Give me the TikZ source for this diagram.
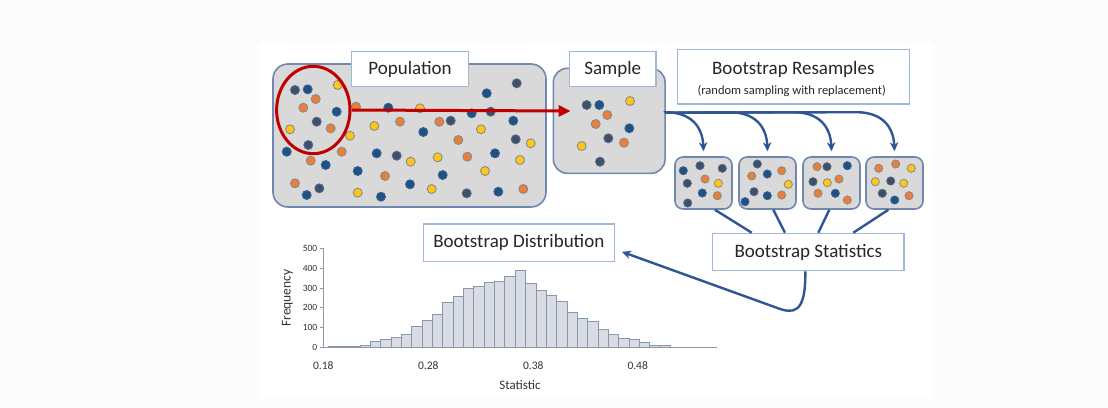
\documentclass[tikz,border=0pt]{standalone}
\usepackage{fontspec}
\setmainfont{Carlito}
\usetikzlibrary{arrows.meta,calc,shapes.geometric}
\definecolor{bgc}{HTML}{FCFCFC}
\definecolor{boxfill}{HTML}{D9D9D9}
\definecolor{boxline}{HTML}{7088B0}
\definecolor{lblline}{HTML}{9DB8DA}
\definecolor{txt}{HTML}{262626}
\definecolor{redc}{HTML}{C00000}
\definecolor{bluec}{HTML}{2F5597}
\definecolor{cN}{HTML}{215083}
\definecolor{oN}{HTML}{3A6592}
\definecolor{cS}{HTML}{3E5069}
\definecolor{oS}{HTML}{566A84}
\definecolor{cO}{HTML}{E97F3A}
\definecolor{oO}{HTML}{8A8A8A}
\definecolor{cY}{HTML}{FFC61A}
\definecolor{oY}{HTML}{8A8A8A}
\definecolor{barfill}{HTML}{D9DCE2}
\definecolor{barline}{HTML}{8597B3}
\definecolor{axisc}{HTML}{8C96A6}
\definecolor{axtxt}{HTML}{333333}
\newcommand{\myfs}[1]{\fontsize{#1}{#1}\selectfont}
\begin{document}
\begin{tikzpicture}[x=1pt,y=-1pt,
  bigbox/.style={draw=boxline, fill=boxfill, line width=1.6pt, inner sep=0pt},
  lbl/.style={draw=lblline, fill=white, line width=1.2pt, inner sep=0pt, text=txt, font=\myfs{19}},
  dot/.style={circle, inner sep=0pt, minimum size=9pt, line width=0.9pt},
  sdot/.style={circle, inner sep=0pt, minimum size=8.2pt, line width=0.8pt},
  bluearr/.style={draw=bluec, line width=2.4pt, -{Stealth[length=9pt,width=8.5pt]}},
  blueln/.style={draw=bluec, line width=2.4pt},
  redarr/.style={draw=redc, line width=3pt, -{Triangle[length=12pt,width=11pt]}},
  bar/.style={draw=barline, fill=barfill, line width=0.9pt},
  axis/.style={draw=axisc, line width=1pt},
  ticklbl/.style={text=axtxt, inner sep=0pt}
]
\useasboundingbox (0,0) rectangle (1108,407);
\fill[bgc] (0,0) rectangle (1108,407);
\fill[white] (259,44) rectangle (933,398);

% population
\node[bigbox, rounded corners=15pt, minimum width=273pt, minimum height=143pt] (pop) at (409.5,135.5) {};
\foreach \x/\y/\c [count=\i] in {
295/90/S, 307.7/89.3/N, 337.7/85/Y, 315.7/99/O, 303.3/107.7/O, 336.7/111.7/N,
316.7/121.7/S, 330.7/128.3/O, 290/129.3/Y, 308.3/145/S, 356/106.7/O, 388.3/107.7/N,
420/108.3/Y, 471.7/113.3/N, 490.7/111.7/S, 486.7/93.3/N, 516.7/83.3/S, 374.3/126/Y,
400/121.7/O, 439.3/121.7/O, 450.7/120.7/S, 423.3/132/N, 350/135.7/Y, 481/129.3/Y,
513.3/120.7/N, 458.3/140/O, 515.7/139.3/S, 530.7/143.3/Y, 286.7/151.7/N, 341.7/151.7/O,
376.7/153.3/N, 396.7/155.7/S, 310.7/160.7/O, 325.7/165/N, 410.7/161.7/Y, 437.7/157.3/Y,
467.3/156.7/O, 495/153.3/N, 520/160/Y, 357.7/171/N, 385/176/O, 442.7/175/N,
485/171/Y, 295/183.3/O, 319.3/188.3/S, 306.7/195/N, 357.7/192.7/Y, 381/196.7/N,
410/184.3/N, 431.7/189/Y, 466.7/193.3/S, 498.3/191.7/N, 523.3/189/O}
  \node[dot, fill=c\c, draw=o\c] (pd\i) at (\x,\y) {};
\node[lbl, minimum width=116.6pt, minimum height=35pt] (poplbl) at (410,69.2) {Population};
\node[ellipse, draw=redc, line width=3pt, minimum width=73.4pt, minimum height=87.4pt, inner sep=0pt] (ell) at (313.3,110) {};

% sample
\node[bigbox, rounded corners=14pt, minimum width=111.7pt, minimum height=105pt] (samp) at (609.2,120.8) {};
\foreach \x/\y/\c [count=\i] in {
586.7/105/S, 599.3/105/N, 630/101/Y, 607.3/115/O, 595.7/124/O, 629.3/128.3/N,
608.3/138.3/S, 624/142.7/O, 581.7/146/Y, 600/161.7/S}
  \node[dot, fill=c\c, draw=o\c] (sd\i) at (\x,\y) {};
\node[lbl, minimum width=86.7pt, minimum height=35pt] (samplbl) at (612.7,69.2) {Sample};

\draw[redarr] (ell.east) -- ($(ell.east -| samp.west)+(18,1)$);

% resamples label
\node[lbl, minimum width=231.6pt, minimum height=54.7pt] (reslbl) at (793.5,76.7) {};
\node[text=txt, font=\myfs{19}, inner sep=0pt] (restitle) at (793.3,69.5) {Bootstrap Resamples};
\node[text=txt, font=\myfs{12.5}, inner sep=0pt] (ressub) at (791.7,91) {(random sampling with replacement)};

% resample boxes
\foreach \cx [count=\k] in {703.5,767.5,831.5,894.5}
  \node[bigbox, rounded corners=8pt, minimum width=57pt, minimum height=52pt] (rs\k) at (\cx,183) {};
\foreach \x/\y/\c [count=\i] in {
683.3/170.7/N, 700/165.7/S, 722.3/168.3/S, 705/179/O, 718.3/183.3/Y, 687.3/183.3/S,
702.3/193/N, 717.3/195.7/O, 687.7/203/S,
757.3/164/S, 751.7/176/O, 767.3/174/N, 781.7/170.7/O, 788.3/184.3/Y, 754/191.7/S,
767.3/195.7/N, 781.7/195/O, 745/201.7/N,
817/166.7/O, 827/166.7/S, 847.3/165.7/N, 813/181.7/S, 827.3/182.7/Y, 839/179/O,
818/193.3/O, 835.3/193.3/N, 847.3/200/O,
878.7/168.3/O, 895.7/164/O, 911.3/168.3/Y, 875.3/181.7/Y, 890.7/181/S, 903.7/183.3/Y,
882.3/193.3/S, 909/195.7/O, 894.7/200/N}
  \node[sdot, fill=c\c, draw=o\c] (rd\i) at (\x,\y) {};

% arrows from sample to resamples
\coordinate (s0) at ($(samp.east)+(0,-8)$);
\foreach \k in {1,2,3,4}{
  \draw[bluearr] (s0) -- ($(rs\k.north)+(-38,-44)$)
    .. controls ($(rs\k.north)+(-13,-44)$) and ($(rs\k.north)+(-1,-30)$) .. ($(rs\k.north)+(0,-5)$);
}

% statistics
\node[lbl, minimum width=191.3pt, minimum height=37.4pt] (stats) at (808.3,252) {Bootstrap Statistics};
\draw[blueln] ($(rs1.south)+(11.5,0)$) -- ($(stats.north)+(-56.6,0)$);
\draw[blueln] ($(rs2.south)+(5.8,0)$) -- ($(stats.north)+(-23.3,0)$);
\draw[blueln] ($(rs3.south)+(-2.2,0)$) -- ($(stats.north)+(10,0)$);
\draw[blueln] ($(rs4.south)+(-6.2,0)$) -- ($(stats.north)+(45,0)$);

% distribution
\node[lbl, minimum width=191pt, minimum height=37.7pt] (dist) at (518.8,242.8) {Bootstrap Distribution};
\coordinate (bend) at (776,307.5);
\draw[bluearr] ($(stats.south)+(-3,0)$) .. controls (806,315) and (793,314) .. (bend) -- ($(dist.east)+(7,9)$);

% histogram
\draw[bar] (328,347.7) rectangle (360,346.4);
\foreach \h [count=\i from 0] in {2.7,6,8.3,10.3,13.7,21.7,27.7,33,45.3,51,59.3,61.7,65.7,66,71.7,77,64.3,57.7,52.7,46,35,29.3,26,18.7,13.3,9.3,8.3,5.3,2.7,2}
  \draw[bar] ({360+\i*10.35},347.7) rectangle ++(10.35,-\h);
\draw[axis] (323.3,248.3) -- (323.3,347.7) -- (716.7,347.7);
\foreach \v [count=\k from 0] in {0,100,200,300,400,500}{
  \draw[axis] (319.8,{347.7-19.88*\k}) -- (323.3,{347.7-19.88*\k});
  \node[ticklbl, anchor=east, font=\myfs{9.5}] (yl\k) at (317.5,{347.7-19.88*\k}) {\v};
}
\foreach \v/\xx [count=\k] in {0.18/323.3, 0.28/428.3, 0.38/533.3, 0.48/637.7}
  \node[ticklbl, font=\myfs{11.5}] (xl\k) at (\xx,366) {\v};
\node[ticklbl, font=\myfs{13}] (xtitle) at (520,385.5) {Statistic};
\node[ticklbl, font=\myfs{13.5}, rotate=90] (ytitle) at (287.5,298) {Frequency};
\end{tikzpicture}
\end{document}
